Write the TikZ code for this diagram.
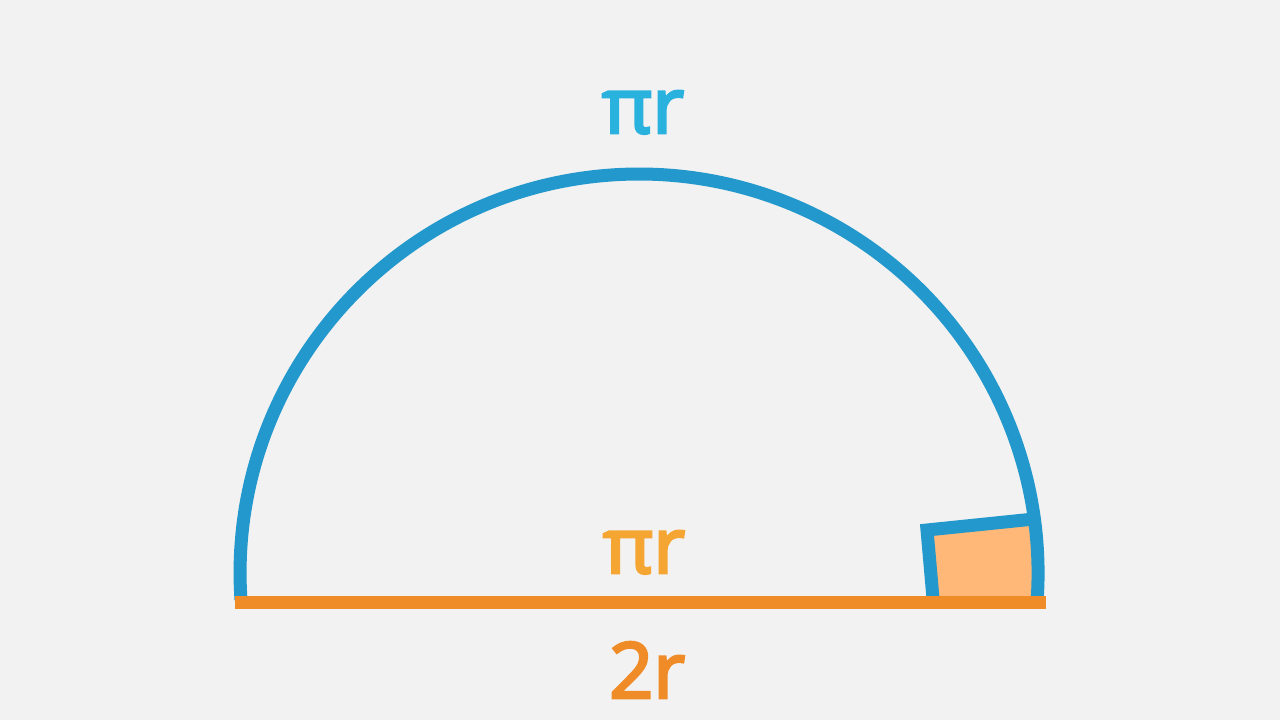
\documentclass[tikz,border=0pt]{standalone}
\usepackage{fontspec}
\setmainfont{Open Sans}
\newfontfamily\labelfont{Open Sans}[FakeBold=3.5]

\definecolor{bggray}{RGB}{242,242,242}
\definecolor{arcblue}{RGB}{34,152,204}
\definecolor{labelblue}{RGB}{41,178,222}
\definecolor{lineorange}{RGB}{240,140,40}
\definecolor{labelorange}{RGB}{245,165,50}
\definecolor{squarefill}{RGB}{255,184,120}

\tikzset{every picture/.style={line width=0.75pt}}

\begin{document}
\begin{tikzpicture}[x=0.75pt,y=0.75pt,yscale=-1,xscale=1,
  lbl/.style={anchor=base, inner sep=0pt, font=\labelfont\fontsize{58}{60}\selectfont}]
%set diagram left start at 0, and has height of 720
\fill[bggray] (0,0) rectangle (1280,720);
\useasboundingbox (0,0) rectangle (1280,720);

%Shape: Right angle mark [fill]
\fill[squarefill] (927,530) -- (1036,519) -- (1040,600) -- (933,600) -- cycle;
%Shape: Right angle mark [border]
\draw[arcblue, line width=9.75pt, line join=miter] (933.5,604) -- (927,530) -- (1036,518.8);

%Shape: Arc
\draw[arcblue, line width=9.75pt] (241,600) arc[start angle=176.12, end angle=363.88, radius=399];

%Straight Lines
\draw[lineorange, line width=9.75pt] (235,602.5) -- (1046,602.5);

% Text Node
\node[lbl, text=labelblue] (arclabel) at (643,133) {πr};
% Text Node
\node[lbl, text=labelorange] (halflabel) at (644,573) {πr};
% Text Node
\node[lbl, text=lineorange] (baselabel) at (647,698) {2r};

\end{tikzpicture}
\end{document}
